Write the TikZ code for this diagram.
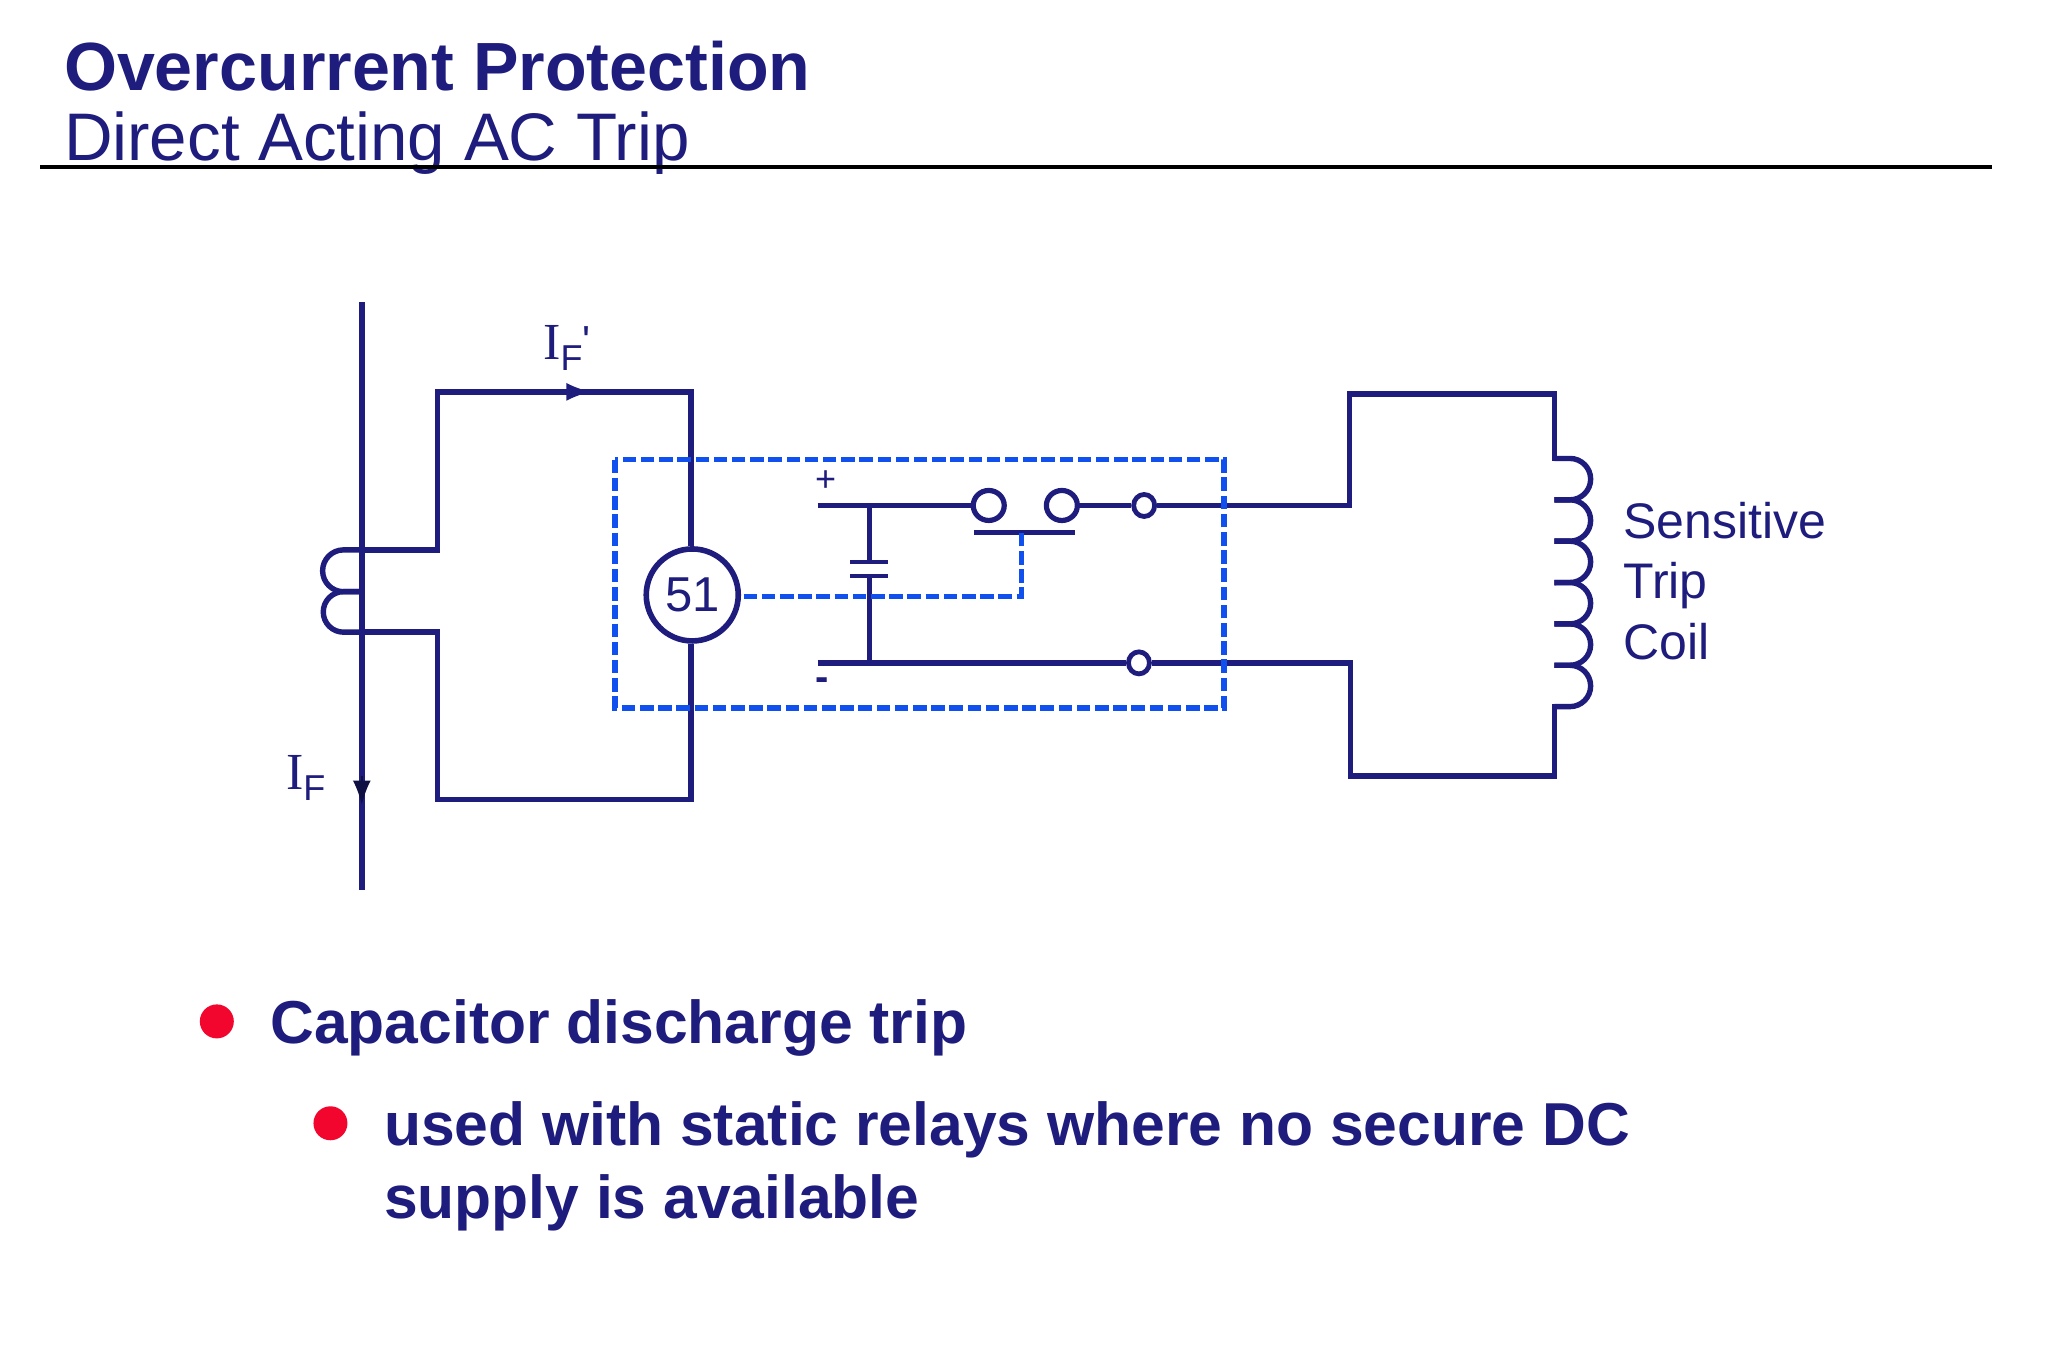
\documentclass[tikz,border=0pt]{standalone}
\usepackage{fontspec}
\setmainfont{Liberation Sans}
\newfontfamily\serifI{Liberation Serif}
\newfontfamily\plainf{Liberation Sans}
\usetikzlibrary{arrows.meta,shapes.geometric}
\definecolor{navy}{HTML}{1E1C7C}
\definecolor{dashblue}{HTML}{1050EE}
\definecolor{redbul}{HTML}{F2062E}
\newcommand{\fs}[1]{\fontsize{#1}{#1}\selectfont}
\tikzset{
  wire/.style={draw=navy,line width=5.4pt,line cap=rect,line join=miter},
  thinwire/.style={draw=navy,line width=5.2pt},
  plate/.style={draw=navy,line width=4.4pt},
  dashbox/.style={draw=dashblue,line width=5.4pt,dash pattern=on 13.5pt off 4.7pt},
  txt/.style={anchor=base west,inner sep=0pt,outer sep=0pt,text=navy},
  contact/.style={ellipse,draw=navy,line width=5.2pt,fill=white,inner sep=0pt,minimum width=31pt,minimum height=30pt},
  term/.style={ellipse,draw=navy,line width=4.8pt,fill=white,inner sep=0pt,minimum width=21pt,minimum height=22pt},
  relay/.style={circle,draw=navy,line width=5.6pt,fill=white,inner sep=0pt,minimum size=92pt,text=navy,font=\fs{49}},
  bullet/.style={circle,fill=redbul,inner sep=0pt,minimum size=34pt},
  tip/.style={-{Latex[length=24pt,width=18pt]},draw=navy,line width=2pt}
}
\begin{document}
\begin{tikzpicture}[x=1.30612pt,y=-1.30612pt]
\useasboundingbox[fill=white] (0,0) rectangle (1568,1045.8);

% title
\node[txt,font=\bfseries\fs{68.2}] (title) at (49,69) {Overcurrent Protection};
\node[txt,font=\fs{67.3}] (subtitle) at (49,122.5) {Direct Acting AC Trip};
\coordinate (ruleL) at (31,128);
\coordinate (ruleR) at (1525,128);
\draw[black,line width=4.4pt] (ruleL) -- (ruleR);

% coordinates of the left circuit
\coordinate (busT) at (277,233);
\coordinate (busB) at (277,679);
\coordinate (ctT) at (277,421);
\coordinate (ctM) at (277,453);
\coordinate (ctB) at (277,484);
\coordinate (lTop) at (335,300);
\coordinate (lUp) at (335,421);
\coordinate (lDn) at (335,484);
\coordinate (lBot) at (335,612);
\coordinate (rTop) at (529,300);
\coordinate (rBot) at (529,612);

% dashed enclosure
\coordinate (boxA) at (471,352);
\coordinate (boxB) at (937,542);

% wires under the dashes
\draw[wire] (busT) -- (busB);
\draw[wire] (ctT) -- (lUp) -- (lTop) -- (rTop);
\draw[wire] (ctB) -- (lDn) -- (lBot) -- (rBot);
\draw[wire,line cap=butt] (ctT) -- (263,421) arc[start angle=-90,end angle=-270,radius=16] -- (ctM);
\draw[wire,line cap=butt] (ctM) -- (263,453) arc[start angle=-90,end angle=-270,radius=15.5] -- (ctB);

% arrowheads
\coordinate (a1s) at (430,300);
\coordinate (a1e) at (452,300);
\draw[tip] (a1s) -- (a1e);
\coordinate (a2s) at (277,594);
\coordinate (a2e) at (277,616);
\draw[tip,draw=navy!55!black] (a2s) -- (a2e);

% relay
\node[relay] (r51) at (530,455.5) {51};
\draw[wire,line cap=butt] (rTop) -- (r51.north -| rTop);
\draw[wire,line cap=butt] (r51.south -| rBot) -- (rBot);

% dc side
\coordinate (pL) at (626,387);
\coordinate (pC) at (666,387);
\coordinate (nL) at (626,507.5);
\coordinate (nC) at (666,507.5);
\node[contact] (c1) at (757,387) {};
\node[contact] (c2) at (813,387) {};
\node[term] (t1) at (876,387) {};
\node[term] (t2) at (872,507.5) {};
\coordinate (oTop) at (1033,387);
\coordinate (oBot) at (1034,507.5);
\coordinate (capA) at (666,430.5);
\coordinate (capB) at (666,441);
\coordinate (capAl) at (651,430.5);
\coordinate (capAr) at (680,430.5);
\coordinate (capBl) at (651,441);
\coordinate (capBr) at (680,441);
\coordinate (barL) at (746,407.5);
\coordinate (barR) at (823,407.5);
\coordinate (barM) at (782,407.5);
\coordinate (dashC) at (782,456.5);

\draw[wire,line cap=butt] (pL) -- (c1);
\draw[wire,line cap=butt] (c2) -- (t1);
\draw[wire,line cap=butt] (t1) -- (oTop);
\draw[wire,line cap=butt] (nL) -- (t2);
\draw[wire,line cap=butt] (t2) -- (oBot);
\draw[thinwire] (pC) -- (capA);
\draw[thinwire] (capB) -- (nC);
\draw[plate] (capAl) -- (capAr);
\draw[plate] (capBl) -- (capBr);
\draw[wire,line cap=butt] (barL) -- (barR);

% dashes on top
\draw[dashbox] (boxA) rectangle (boxB);
\draw[dashbox] (r51.east |- dashC) ++(2,0) -- (dashC) -- (barM);

% plus and minus
\node[txt,font=\fs{36}] (plus) at (624,376.5) {+};
\node[txt,font=\bfseries\fs{40}] (minus) at (624.5,528.5) {-};

% trip coil circuit
\coordinate (cUp) at (1190,351);
\coordinate (cDn) at (1190,541);
\coordinate (tl) at (1033,301.5);
\coordinate (tr) at (1190,301.5);
\coordinate (bl) at (1034,594);
\coordinate (br) at (1190,594);
\draw[wire] (oTop) -- (tl) -- (tr) -- (cUp);
\draw[wire] (oBot) -- (bl) -- (br) -- (cDn);
\foreach \i in {0,...,5}{
  \draw[wire,line cap=butt] (1190,{351+31.67*\i}) -- (1202,{351+31.67*\i})
     arc[start angle=-90,end angle=90,radius=15.83] -- (1190,{351+31.67*(\i+1)});
}
\node[txt,font=\fs{50}] (s1) at (1243,412) {Sensitive};
\node[txt,font=\fs{50}] (s2) at (1243,458.5) {Trip};
\node[txt,font=\fs{50}] (s3) at (1243,505) {Coil};

% current labels
\node[txt,font=\fs{52}] (ifp) at (416,275.5) {{\serifI I}\raisebox{-11pt}{\fs{36}F}\raisebox{4pt}{\plainf\fs{42}'}};
\node[txt,font=\fs{52}] (if) at (219,604.5) {{\serifI I}\raisebox{-11pt}{\fs{36}F}};

% bullets
\node[bullet] (b1) at (166,782) {};
\node[bullet] (b2) at (253,860) {};
\node[txt,font=\bfseries\fs{60.6}] (l1) at (207,799) {Capacitor discharge trip};
\node[txt,font=\bfseries\fs{60.6}] (l2) at (294,877) {used with static relays where no secure DC};
\node[txt,font=\bfseries\fs{60.6}] (l3) at (294,933) {supply is available};
\end{tikzpicture}
\end{document}
